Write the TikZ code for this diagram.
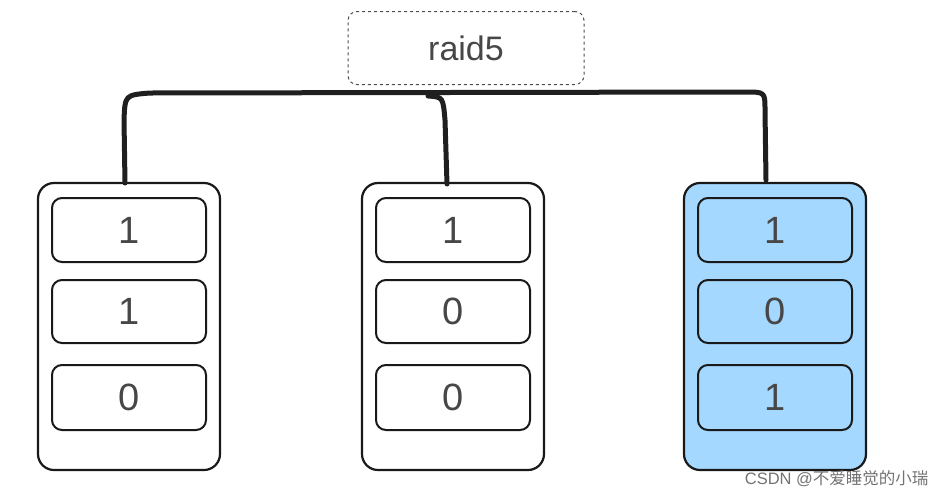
\documentclass[tikz,border=0pt]{standalone}
\usepackage{fontspec}
\setmainfont{Liberation Sans}
\newfontfamily\cjk{Noto Sans CJK SC}
\definecolor{diskblue}{HTML}{A5D8FF}
\begin{document}
\begin{tikzpicture}[x=1pt,y=-1pt,
  outer/.style={draw=black!90,line width=2.2pt,rounded corners=16pt},
  inner/.style={draw=black!90,line width=2pt,rounded corners=10pt,font=\fontsize{38}{38}\selectfont,text=black!72},
  bus/.style={draw=black!88,line width=5pt,line cap=round,line join=round}]
\useasboundingbox (0,0) rectangle (946,499);
\node[draw=black!70,dashed,line width=1pt,rounded corners=9pt,minimum width=236pt,minimum height=73pt,font=\fontsize{34}{34}\selectfont,text=black!72] (r) at (466,48) {raid5};
\foreach \n/\cx/\fill/\a/\b/\c in {L/129/white/1/1/0, M/453/white/1/0/0, R/775/diskblue/1/0/1}{
  \node[outer,fill=\fill,minimum width=182pt,minimum height=287pt] (\n) at (\cx,326.5) {};
  \node[inner,fill=\fill,minimum width=154pt,minimum height=64pt] (\n1) at (\cx,230) {\a};
  \node[inner,fill=\fill,minimum width=154pt,minimum height=63pt] (\n2) at (\cx,311.5) {\b};
  \node[inner,fill=\fill,minimum width=154pt,minimum height=65pt] (\n3) at (\cx,397.5) {\c};
}
\coordinate (t1) at (125,183);
\coordinate (t2) at (447,184);
\coordinate (t3) at (766,180);
\draw[bus] (t1) -- (124,120) .. controls (125,95) .. (150,93) -- (745,92) .. controls (765,92) .. (765,110) -- (t3);
\draw[bus] (t2) -- (445,120) .. controls (443,97) .. (428,96);
\node[font=\fontsize{16.5}{16.5}\selectfont,text=black!55,anchor=east] (w) at (932,479) {CSDN @{\cjk 不爱睡觉的小瑞}};
\end{tikzpicture}
\end{document}
